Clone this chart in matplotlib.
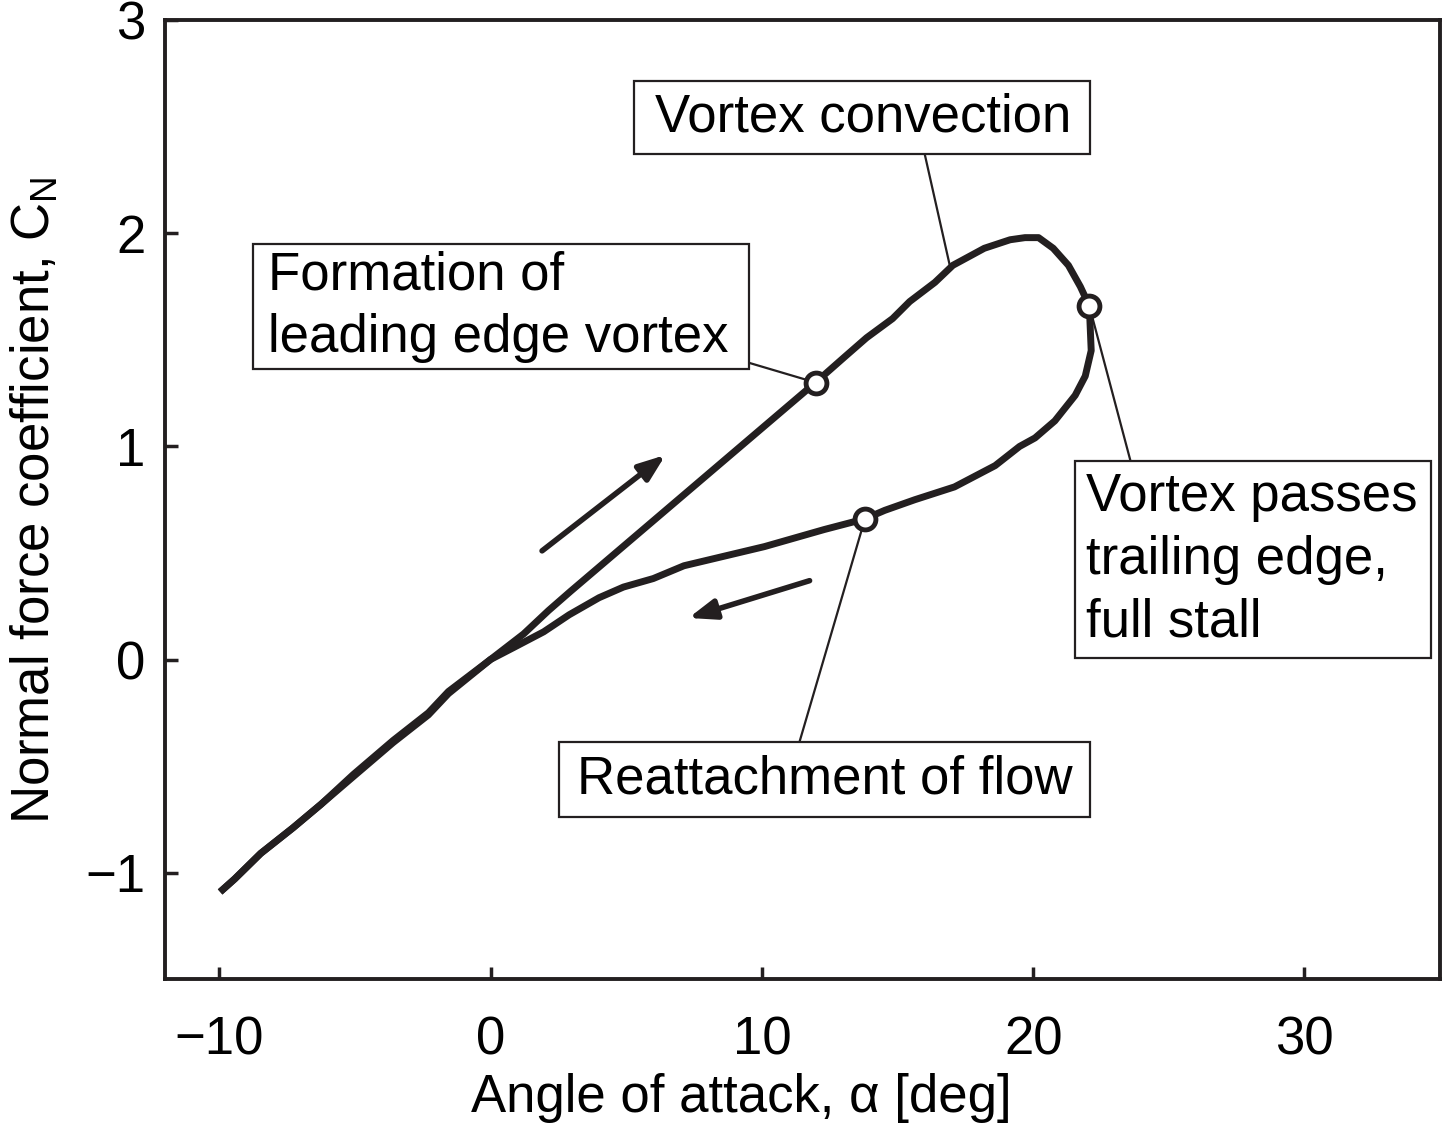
import matplotlib
matplotlib.use("Agg")
import matplotlib.pyplot as plt
import matplotlib.patches as patches

plt.rcParams['font.family'] = ['Liberation Sans', 'DejaVu Sans']
plt.rcParams['mathtext.fontset'] = 'custom'
plt.rcParams['mathtext.rm'] = 'Liberation Sans'
plt.rcParams['mathtext.it'] = 'Liberation Sans'
plt.rcParams['mathtext.default'] = 'regular'

# upstroke (alpha increasing) up to the stall point
alpha_up = [-9.87, -9.43, -8.47, -7.28, -6.25, -5.06, -3.59, -2.29, -1.55, 0.0,
            1.22, 2.14, 2.95, 11.98, 13.05, 13.86, 14.82,
            15.45, 16.38, 17.04, 18.2, 19.15, 19.7, 20.2, 20.74, 21.3, 21.74, 22.07]
cn_up = [-1.08, -1.03, -0.91, -0.79, -0.68, -0.54, -0.38, -0.25, -0.15, 0.0,
         0.12, 0.23, 0.32, 1.30, 1.42, 1.51, 1.60,
         1.68, 1.77, 1.85, 1.93, 1.97, 1.98, 1.98, 1.93, 1.85, 1.75, 1.66]

# downstroke (alpha decreasing)
alpha_down = [22.07, 22.14, 21.92, 21.55, 20.8, 20.07, 19.5, 18.6, 17.1, 15.64,
              14.53, 13.8, 12.3, 10.1, 7.13, 6.0, 4.9, 4.0, 2.9, 1.96, 0.85, 0.0,
              -1.55, -2.29, -3.59, -5.06, -6.25, -7.28, -8.47, -9.43, -9.87]
cn_down = [1.66, 1.45, 1.33, 1.24, 1.12, 1.04, 1.0, 0.91, 0.81, 0.75,
           0.70, 0.66, 0.61, 0.53, 0.44, 0.38, 0.34, 0.29, 0.21, 0.13, 0.056, 0.0,
           -0.16, -0.26, -0.39, -0.55, -0.68, -0.79, -0.91, -1.03, -1.08]

# marked events
event_alpha = [11.98, 22.07, 13.8]
event_cn = [1.30, 1.66, 0.66]

ink = "#231f20"

fig = plt.figure(figsize=(14.43, 11.28), dpi=100)
ax = fig.add_axes([0.1143, 0.132, 0.8837, 0.850])

ax.plot(alpha_up, cn_up, color=ink, lw=5, solid_joinstyle="round", zorder=3)
ax.plot(alpha_down, cn_down, color=ink, lw=5, solid_joinstyle="round", zorder=3)

# leader lines: (box end, curve end)
leaders = [
    ((16.0, 2.374), (16.93, 1.848)),
    ((9.54, 1.392), (11.98, 1.30)),
    ((23.59, 0.931), (22.07, 1.66)),
    ((11.39, -0.386), (13.8, 0.66)),
]
for (x0, y0), (x1, y1) in leaders:
    ax.plot([x0, x1], [y0, y1], color=ink, lw=1.6, zorder=2)

ax.plot(event_alpha, event_cn, "o", ms=15, mfc="white", mec=ink, mew=3.5, zorder=4)

# direction arrows
head = "-|>,head_length=1.6,head_width=0.6"
ax.annotate("", xy=(6.45, 0.96), xytext=(1.9, 0.51),
            arrowprops=dict(arrowstyle=head, lw=4, color=ink, shrinkA=0, shrinkB=0))
ax.annotate("", xy=(7.3, 0.195), xytext=(11.76, 0.37),
            arrowprops=dict(arrowstyle=head, lw=4, color=ink, shrinkA=0, shrinkB=0))

# label boxes (x0, y0, x1, y1) in data units
boxes = [
    (5.29, 2.374, 22.11, 2.717),
    (-8.76, 1.363, 9.54, 1.951),
    (21.55, 0.005, 34.68, 0.931),
    (2.51, -0.738, 22.11, -0.386),
]
for x0, y0, x1, y1 in boxes:
    ax.add_patch(patches.Rectangle((x0, y0), x1 - x0, y1 - y0, facecolor="white",
                                   edgecolor=ink, lw=1.6, zorder=5))

fs = 38
ax.text(13.74, 2.546, "Vortex convection", fontsize=fs, ha="center", va="center", zorder=6)
ax.text(-8.2, 1.657, "Formation of\nleading edge vortex", fontsize=fs, ha="left", va="center",
        linespacing=1.32, zorder=6)
ax.text(21.95, 0.468, "Vortex passes\ntrailing edge,\nfull stall", fontsize=fs, ha="left", va="center",
        linespacing=1.32, zorder=6)
ax.text(12.31, -0.562, "Reattachment of flow", fontsize=fs, ha="center", va="center", zorder=6)

ax.set_xlim(-12, 35)
ax.set_ylim(-1.5, 3)
ax.set_xticks([-10, 0, 10, 20, 30])
ax.set_yticks([-1, 0, 1, 2, 3])
ax.tick_params(direction="in", length=9, width=2.5, labelsize=38, color=ink)
ax.tick_params(axis="x", pad=26)
ax.tick_params(axis="y", pad=14)
for s in ax.spines.values():
    s.set_linewidth(2.8)
    s.set_color(ink)

ax.set_xlabel("Angle of attack, α [deg]", fontsize=38)
ax.xaxis.set_label_coords(0.452, -0.098)
ax.set_ylabel("Normal force coefficient, C$_{N}$", fontsize=38, labelpad=18)

fig.savefig("out.png", dpi=100)
